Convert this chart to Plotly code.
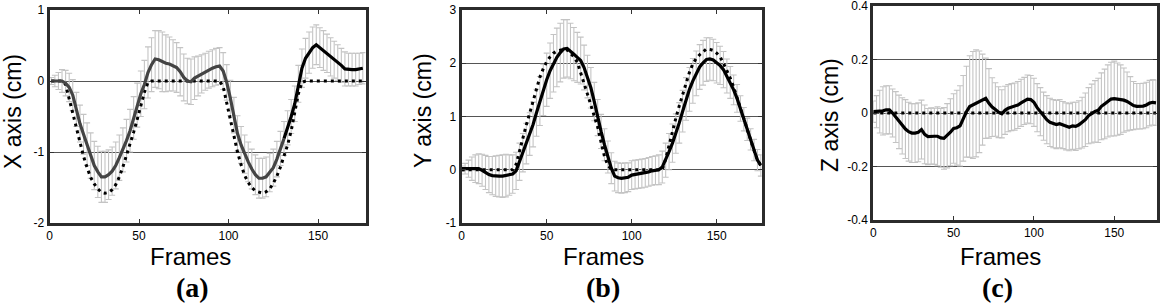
import plotly.graph_objects as go

W, H = 1161, 307

# ---------------- Panel (a): X axis ----------------
frames_a = list(range(1, 176, 2))
mean_a = [0.00, 0.00, 0.00, 0.00, -0.03, -0.09, -0.20, -0.40, -0.60, -0.75,
          -0.89, -1.05, -1.19, -1.28, -1.35, -1.35, -1.32, -1.27, -1.19, -1.08,
          -0.97, -0.84, -0.70, -0.52, -0.34, -0.18, -0.05, 0.12, 0.23, 0.31,
          0.30, 0.27, 0.25, 0.24, 0.22, 0.19, 0.13, 0.05, 0.00, -0.01,
          0.04, 0.07, 0.10, 0.13, 0.16, 0.18, 0.20, 0.21, 0.14, -0.02,
          -0.24, -0.48, -0.74, -0.90, -1.03, -1.14, -1.24, -1.32, -1.37, -1.37,
          -1.35, -1.29, -1.22, -1.10, -0.95, -0.81, -0.66, -0.50, -0.32, -0.04,
          0.18, 0.32, 0.40, 0.47, 0.51, 0.47, 0.43, 0.39, 0.34, 0.30,
          0.26, 0.22, 0.17, 0.16, 0.16, 0.16, 0.17, 0.18]
ref_a = [0.00, 0.00, 0.00, 0.00, -0.05, -0.26, -0.47, -0.68, -0.88, -1.06,
         -1.22, -1.36, -1.45, -1.52, -1.57, -1.58, -1.57, -1.53, -1.46, -1.35,
         -1.21, -1.05, -0.90, -0.72, -0.54, -0.34, -0.16, -0.02, 0.00, 0.00,
         0.00, 0.00, 0.00, 0.00, 0.00, 0.00, 0.00, 0.00, 0.00, 0.00,
         0.00, 0.00, 0.00, 0.00, 0.00, 0.00, 0.00, 0.00, -0.08, -0.32,
         -0.52, -0.76, -1.00, -1.18, -1.33, -1.43, -1.50, -1.55, -1.57, -1.58,
         -1.56, -1.52, -1.44, -1.34, -1.21, -1.07, -0.90, -0.70, -0.44, -0.18,
         -0.02, 0.00, 0.00, 0.00, 0.00, 0.00, 0.00, 0.00, 0.00, 0.00,
         0.00, 0.00, 0.00, 0.00, 0.00, 0.00, 0.00, 0.00]
err_a = [0.05, 0.08, 0.12, 0.16, 0.18, 0.20, 0.22, 0.24, 0.26, 0.28,
         0.30, 0.32, 0.34, 0.36, 0.36, 0.36, 0.35, 0.34, 0.33, 0.32,
         0.31, 0.30, 0.30, 0.30, 0.31, 0.32, 0.34, 0.36, 0.38, 0.40,
         0.41, 0.42, 0.40, 0.38, 0.36, 0.35, 0.34, 0.33, 0.32, 0.32,
         0.30, 0.28, 0.27, 0.26, 0.26, 0.26, 0.26, 0.26, 0.26, 0.25,
         0.25, 0.25, 0.25, 0.26, 0.27, 0.28, 0.28, 0.28, 0.28, 0.28,
         0.28, 0.27, 0.26, 0.25, 0.24, 0.24, 0.24, 0.24, 0.25, 0.26,
         0.27, 0.28, 0.29, 0.29, 0.28, 0.28, 0.28, 0.27, 0.27, 0.26,
         0.25, 0.24, 0.24, 0.23, 0.23, 0.23, 0.22, 0.22]
# in (a) the mean curve is drawn dark grey up to this frame, black after it
split_frame_a = 131

# ---------------- Panel (b): Y axis ----------------
frames_b = list(range(0, 177, 2))
mean_b = [0.02, 0.02, 0.02, 0.02, 0.02, 0.02, -0.01, -0.05, -0.09, -0.11,
          -0.12, -0.12, -0.12, -0.11, -0.10, -0.08, -0.02, 0.15, 0.32, 0.49,
          0.67, 0.85, 1.07, 1.29, 1.50, 1.69, 1.86, 2.00, 2.11, 2.20,
          2.27, 2.28, 2.23, 2.17, 2.11, 2.05, 1.92, 1.75, 1.54, 1.28,
          0.98, 0.72, 0.47, 0.24, 0.03, -0.12, -0.15, -0.16, -0.15, -0.14,
          -0.10, -0.09, -0.08, -0.07, -0.06, -0.04, -0.02, -0.01, 0.00, 0.05,
          0.18, 0.34, 0.50, 0.68, 0.88, 1.10, 1.33, 1.51, 1.67, 1.81,
          1.93, 2.01, 2.07, 2.08, 2.06, 2.01, 1.96, 1.88, 1.76, 1.64,
          1.50, 1.34, 1.15, 0.95, 0.76, 0.57, 0.37, 0.18, 0.08]
ref_b = [0.00, 0.00, 0.00, 0.00, 0.00, 0.00, 0.00, 0.00, 0.00, 0.00,
         0.00, 0.00, 0.00, 0.00, 0.00, 0.00, 0.10, 0.36, 0.60, 0.84,
         1.06, 1.29, 1.52, 1.74, 1.90, 2.03, 2.12, 2.19, 2.23, 2.25,
         2.26, 2.25, 2.19, 2.12, 2.02, 1.84, 1.62, 1.42, 1.22, 1.03,
         0.80, 0.52, 0.25, 0.08, 0.01, 0.00, 0.00, 0.00, 0.00, 0.00,
         0.00, 0.00, 0.00, 0.00, 0.00, 0.00, 0.00, 0.00, 0.00, 0.00,
         0.20, 0.46, 0.74, 0.97, 1.20, 1.42, 1.65, 1.83, 1.99, 2.09,
         2.16, 2.22, 2.27, 2.26, 2.24, 2.19, 2.12, 2.00, 1.87, 1.72,
         1.55, 1.36, 1.16, 0.96, 0.76, 0.56, 0.36, 0.18, 0.08]
err_b = [0.05, 0.10, 0.16, 0.22, 0.26, 0.28, 0.30, 0.32, 0.34, 0.36,
         0.38, 0.39, 0.40, 0.40, 0.38, 0.36, 0.35, 0.35, 0.36, 0.38,
         0.40, 0.42, 0.44, 0.46, 0.48, 0.50, 0.52, 0.54, 0.55, 0.55,
         0.55, 0.54, 0.52, 0.50, 0.47, 0.44, 0.42, 0.40, 0.38, 0.36,
         0.34, 0.32, 0.30, 0.30, 0.29, 0.28, 0.28, 0.28, 0.28, 0.27,
         0.27, 0.27, 0.27, 0.27, 0.27, 0.27, 0.27, 0.27, 0.28, 0.30,
         0.32, 0.34, 0.36, 0.37, 0.38, 0.39, 0.40, 0.41, 0.42, 0.42,
         0.42, 0.42, 0.41, 0.40, 0.39, 0.38, 0.36, 0.34, 0.32, 0.30,
         0.28, 0.26, 0.24, 0.22, 0.21, 0.20, 0.20, 0.20, 0.20]

# ---------------- Panel (c): Z axis ----------------
frames_c = list(range(0, 177, 2))
mean_c = [0.005, 0.005, 0.005, 0.008, 0.012, 0.012, 0.000, -0.015, -0.033, -0.048,
          -0.060, -0.070, -0.075, -0.075, -0.072, -0.062, -0.080, -0.088, -0.086, -0.087,
          -0.087, -0.093, -0.095, -0.085, -0.072, -0.058, -0.055, -0.048, -0.020, 0.005,
          0.024, 0.030, 0.036, 0.042, 0.050, 0.055, 0.036, 0.022, 0.013, 0.003,
          -0.003, 0.010, 0.018, 0.022, 0.024, 0.030, 0.038, 0.045, 0.052, 0.050,
          0.040, 0.020, 0.005, -0.012, -0.025, -0.035, -0.040, -0.043, -0.040, -0.045,
          -0.050, -0.053, -0.048, -0.050, -0.044, -0.036, -0.025, -0.010, -0.002, 0.006,
          0.010, 0.025, 0.034, 0.045, 0.052, 0.054, 0.052, 0.050, 0.048, 0.043,
          0.036, 0.028, 0.025, 0.025, 0.026, 0.030, 0.037, 0.040, 0.038]
ref_c = [0.0] * 89
err_c = [0.040, 0.060, 0.080, 0.090, 0.090, 0.090, 0.090, 0.095, 0.100, 0.105,
         0.110, 0.110, 0.110, 0.110, 0.110, 0.110, 0.110, 0.105, 0.105, 0.105,
         0.110, 0.110, 0.115, 0.120, 0.125, 0.130, 0.140, 0.150, 0.160, 0.170,
         0.190, 0.200, 0.200, 0.190, 0.170, 0.150, 0.130, 0.110, 0.100, 0.095,
         0.090, 0.090, 0.088, 0.088, 0.088, 0.088, 0.088, 0.088, 0.090, 0.090,
         0.090, 0.090, 0.090, 0.090, 0.090, 0.090, 0.090, 0.090, 0.090, 0.088,
         0.088, 0.088, 0.088, 0.090, 0.090, 0.095, 0.100, 0.105, 0.110, 0.115,
         0.120, 0.125, 0.130, 0.135, 0.138, 0.140, 0.135, 0.130, 0.120, 0.110,
         0.100, 0.090, 0.085, 0.085, 0.085, 0.085, 0.085, 0.085, 0.085]

x_ticks = [0, 50, 100, 150]
x_ticktext = ["0", "50", "100", "150"]
y_ticks_a = [-2, -1, 0, 1]
y_ticktext_a = ["-2", "-1", "0", "1"]
y_ticks_b = [-1, 0, 1, 2, 3]
y_ticktext_b = ["-1", "0", "1", "2", "3"]
y_ticks_c = [-0.4, -0.2, 0, 0.2, 0.4]
y_ticktext_c = ["-0.4", "-0.2", "0", "0.2", "0.4"]

y_titles = ["X axis (cm)", "Y axis (cm)", "Z axis (cm)"]
panel_labels = ["(a)", "(b)", "(c)"]

# layout geometry in pixels (left, right, top, bottom)
boxes = [(49.5, 365.5, 10, 223), (461.7, 761.7, 10, 223), (873.3, 1156.5, 6, 220)]
x_ranges = [[0, 176.5], [0, 176.5], [0, 176.3]]
y_ranges = [[-2, 1], [-1, 3], [-0.4, 0.4]]
y_tick_sets = [(y_ticks_a, y_ticktext_a), (y_ticks_b, y_ticktext_b), (y_ticks_c, y_ticktext_c)]
ytitle_pos = [(13, 112), (423, 111), (830, 115)]
frames_title_x = [190, 603, 1000]
label_x = [193, 603, 997]

series = [(frames_a, mean_a, ref_a, err_a),
          (frames_b, mean_b, ref_b, err_b),
          (frames_c, mean_c, ref_c, err_c)]

fig = go.Figure()
FONT = "Liberation Sans, Arial, Helvetica, sans-serif"

for i, (fr, mn, rf, er) in enumerate(series):
    xa = "x" if i == 0 else f"x{i+1}"
    ya = "y" if i == 0 else f"y{i+1}"
    fig.add_trace(go.Scatter(
        x=fr, y=mn, mode="markers", marker=dict(size=1, opacity=0),
        error_y=dict(type="data", array=er, visible=True, color="#c4c4c4",
                     thickness=1.1, width=3),
        xaxis=xa, yaxis=ya, showlegend=False, hoverinfo="skip"))
    fig.add_trace(go.Scatter(
        x=fr, y=rf, mode="lines",
        line=dict(color="#000000", width=3, dash="3px,4px"),
        xaxis=xa, yaxis=ya, showlegend=False))
    if i == 0:
        k = fr.index(split_frame_a)
        fig.add_trace(go.Scatter(
            x=fr[:k + 1], y=mn[:k + 1], mode="lines",
            line=dict(color="#444444", width=3.2),
            xaxis=xa, yaxis=ya, showlegend=False))
        fig.add_trace(go.Scatter(
            x=fr[k:], y=mn[k:], mode="lines",
            line=dict(color="#000000", width=3.2),
            xaxis=xa, yaxis=ya, showlegend=False))
    else:
        fig.add_trace(go.Scatter(
            x=fr, y=mn, mode="lines",
            line=dict(color="#000000", width=3.2),
            xaxis=xa, yaxis=ya, showlegend=False))

layout = dict(width=W, height=H, margin=dict(l=0, r=0, t=0, b=0),
              paper_bgcolor="white", plot_bgcolor="white", showlegend=False,
              font=dict(family=FONT, color="black"))
annotations = []
for i in range(3):
    l, r, t, b = boxes[i]
    sx = "" if i == 0 else str(i + 1)
    yt, ytt = y_tick_sets[i]
    layout["xaxis" + sx] = dict(
        domain=[l / W, r / W], range=x_ranges[i], anchor="y" + sx,
        tickvals=x_ticks, ticktext=x_ticktext, ticks="inside", ticklen=4,
        tickcolor="#333", showgrid=False, zeroline=False, showline=True,
        linecolor="#2b2b2b", linewidth=3, mirror="ticks", automargin=False,
        ticklabeloverflow="allow",
        tickfont=dict(size=12, family=FONT, color="black"))
    layout["yaxis" + sx] = dict(
        domain=[1 - b / H, 1 - t / H], range=y_ranges[i], anchor="x" + sx,
        tickvals=yt, ticktext=ytt, ticks="inside", ticklen=4, tickcolor="#333",
        showgrid=True, gridcolor="#555555", gridwidth=1, zeroline=False,
        showline=True, linecolor="#2b2b2b", linewidth=3, mirror="ticks",
        automargin=False, ticklabeloverflow="allow",
        tickfont=dict(size=12, family=FONT, color="black"))
    annotations.append(dict(
        text=y_titles[i], x=ytitle_pos[i][0] / W, y=1 - ytitle_pos[i][1] / H,
        xref="paper", yref="paper", xanchor="center", yanchor="middle",
        textangle=-90, showarrow=False,
        font=dict(size=23, family=FONT, color="black")))
    annotations.append(dict(
        text="Frames", x=frames_title_x[i] / W, y=1 - 256 / H,
        xref="paper", yref="paper", xanchor="center", yanchor="middle",
        showarrow=False, font=dict(size=24, family=FONT, color="black")))
    annotations.append(dict(
        text="<b>" + panel_labels[i] + "</b>", x=label_x[i] / W, y=1 - 287 / H,
        xref="paper", yref="paper", xanchor="center", yanchor="middle",
        showarrow=False,
        font=dict(size=28, family="Liberation Serif, Times New Roman, serif",
                  color="black")))
layout["annotations"] = annotations
fig.update_layout(**layout)

fig.write_html("out.html",
               config={"displayModeBar": False},
               post_script="document.body.style.margin='0';"
                           "document.body.style.overflow='hidden';")
